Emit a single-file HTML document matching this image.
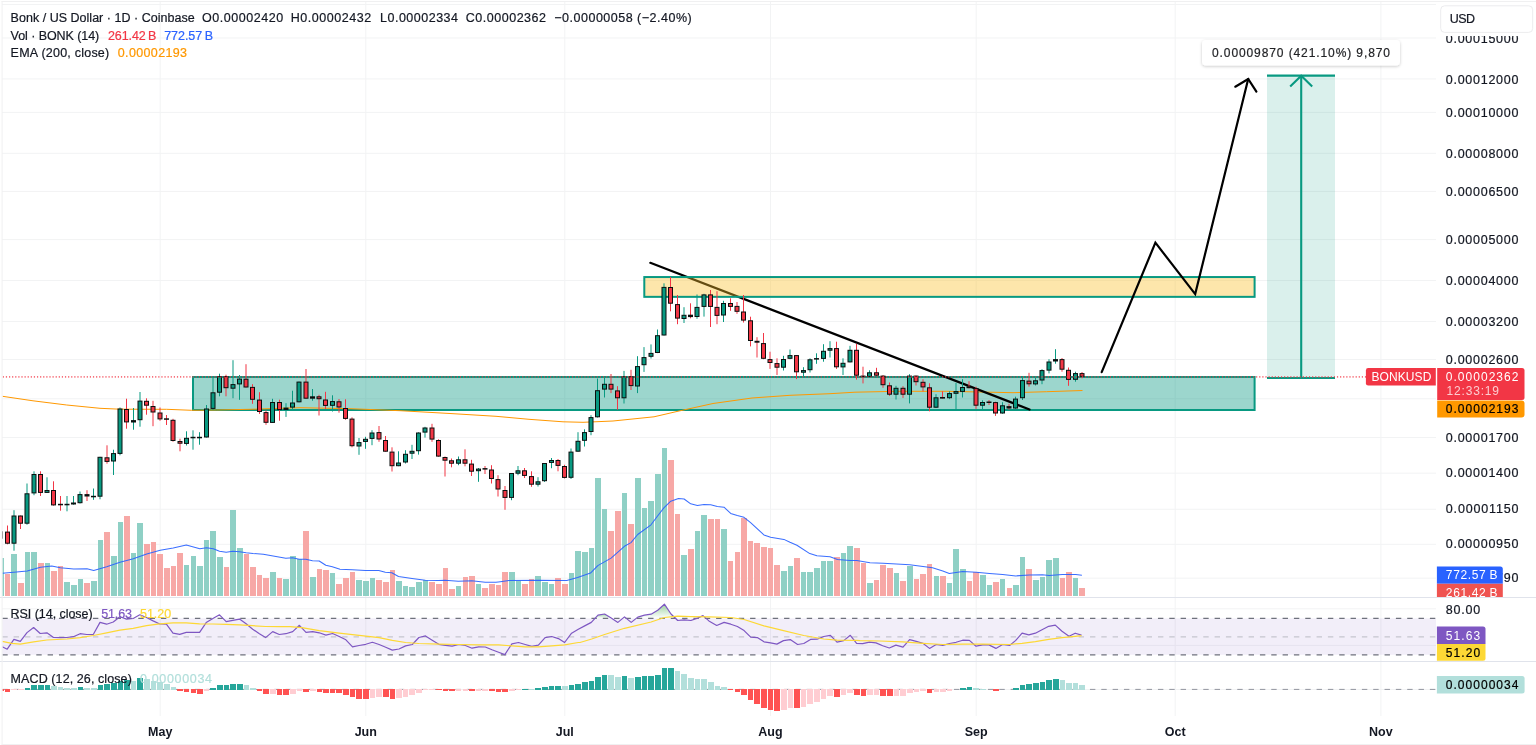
<!DOCTYPE html>
<html lang="en"><head><meta charset="utf-8"><title>Bonk / US Dollar - 1D - Coinbase</title>
<style>
html,body{margin:0;padding:0;background:#fff}
body{width:1536px;height:745px;overflow:hidden;font-family:"Liberation Sans",sans-serif}
svg{display:block}
svg text{font-family:"Liberation Sans",sans-serif;white-space:pre}
</style></head><body>
<svg width="1536" height="745" viewBox="0 0 1536 745">
<rect x="0" y="0" width="1536" height="745" fill="#ffffff"/>
<g stroke="#f2f3f4" stroke-width="1" shape-rendering="crispEdges">
<line x1="2" y1="4.52" x2="1436" y2="4.52" shape-rendering="auto"/>
<line x1="2" y1="37.98" x2="1436" y2="37.98" shape-rendering="auto"/>
<line x1="2" y1="78.93" x2="1436" y2="78.93" shape-rendering="auto"/>
<line x1="2" y1="112.38" x2="1436" y2="112.38" shape-rendering="auto"/>
<line x1="2" y1="153.33" x2="1436" y2="153.33" shape-rendering="auto"/>
<line x1="2" y1="191.43" x2="1436" y2="191.43" shape-rendering="auto"/>
<line x1="2" y1="239.58" x2="1436" y2="239.58" shape-rendering="auto"/>
<line x1="2" y1="280.52" x2="1436" y2="280.52" shape-rendering="auto"/>
<line x1="2" y1="321.47" x2="1436" y2="321.47" shape-rendering="auto"/>
<line x1="2" y1="359.57" x2="1436" y2="359.57" shape-rendering="auto"/>
<line x1="2" y1="398.76" x2="1436" y2="398.76" shape-rendering="auto"/>
<line x1="2" y1="437.54" x2="1436" y2="437.54" shape-rendering="auto"/>
<line x1="2" y1="473.16" x2="1436" y2="473.16" shape-rendering="auto"/>
<line x1="2" y1="509.26" x2="1436" y2="509.26" shape-rendering="auto"/>
<line x1="2" y1="544.32" x2="1436" y2="544.32" shape-rendering="auto"/>
<line x1="2" y1="578.16" x2="1436" y2="578.16" shape-rendering="auto"/>
<line x1="2" y1="608.8" x2="1436" y2="608.8" shape-rendering="auto"/>
<line x1="2" y1="645.4" x2="1436" y2="645.4" shape-rendering="auto"/>
<line x1="160.2" y1="2" x2="160.2" y2="716" shape-rendering="auto"/>
<line x1="365.8" y1="2" x2="365.8" y2="716" shape-rendering="auto"/>
<line x1="564.8" y1="2" x2="564.8" y2="716" shape-rendering="auto"/>
<line x1="770.5" y1="2" x2="770.5" y2="716" shape-rendering="auto"/>
<line x1="976.2" y1="2" x2="976.2" y2="716" shape-rendering="auto"/>
<line x1="1175.2" y1="2" x2="1175.2" y2="716" shape-rendering="auto"/>
<line x1="1380.9" y1="2" x2="1380.9" y2="716" shape-rendering="auto"/>
</g>
<clipPath id="cc"><rect x="2.2" y="2" width="1434" height="714"/></clipPath>
<g clip-path="url(#cc)">
<rect x="2" y="618.4" width="1434" height="36.4" fill="#7e57c2" fill-opacity="0.1"/>
<line x1="2" y1="689.5" x2="1436" y2="689.5" stroke="#f2f3f4" stroke-width="1" shape-rendering="crispEdges"/>
<g fill="none" stroke-width="1.25" stroke-dasharray="5.4 5.93">
<line x1="2.3" y1="618.4" x2="1436" y2="618.4" stroke="#6f727d"/>
<line x1="2.3" y1="636.8" x2="1436" y2="636.8" stroke="#c5c5ce"/>
<line x1="2.3" y1="654.8" x2="1436" y2="654.8" stroke="#6f727d"/>
<line x1="2.3" y1="689.4" x2="1436" y2="689.4" stroke="#868995" stroke-width="0.9"/>
</g>
<g shape-rendering="crispEdges">
<rect x="2" y="557.7" width="1.7" height="38.3" fill="#8fd0c5"/>
<rect x="4.7" y="573.5" width="5.6" height="22.5" fill="#f7a8a6"/>
<rect x="11.4" y="554.3" width="5.6" height="41.7" fill="#8fd0c5"/>
<rect x="18" y="583" width="5.6" height="13" fill="#f7a8a6"/>
<rect x="24.6" y="552" width="5.6" height="44" fill="#8fd0c5"/>
<rect x="31.3" y="552.3" width="5.6" height="43.7" fill="#8fd0c5"/>
<rect x="37.9" y="563" width="5.6" height="33" fill="#f7a8a6"/>
<rect x="44.5" y="562.7" width="5.6" height="33.3" fill="#8fd0c5"/>
<rect x="51.2" y="571.3" width="5.6" height="24.7" fill="#f7a8a6"/>
<rect x="57.8" y="566" width="5.6" height="30" fill="#f7a8a6"/>
<rect x="64.4" y="581.8" width="5.6" height="14.2" fill="#8fd0c5"/>
<rect x="71.1" y="584.8" width="5.6" height="11.2" fill="#8fd0c5"/>
<rect x="77.7" y="579" width="5.6" height="17" fill="#8fd0c5"/>
<rect x="84.3" y="583.2" width="5.6" height="12.8" fill="#f7a8a6"/>
<rect x="91" y="580.7" width="5.6" height="15.3" fill="#8fd0c5"/>
<rect x="97.6" y="539.5" width="5.6" height="56.5" fill="#8fd0c5"/>
<rect x="104.2" y="532.3" width="5.6" height="63.7" fill="#f7a8a6"/>
<rect x="110.9" y="555.5" width="5.6" height="40.5" fill="#8fd0c5"/>
<rect x="117.5" y="522" width="5.6" height="74" fill="#8fd0c5"/>
<rect x="124.1" y="516" width="5.6" height="80" fill="#f7a8a6"/>
<rect x="130.8" y="553" width="5.6" height="43" fill="#8fd0c5"/>
<rect x="137.4" y="523.2" width="5.6" height="72.8" fill="#8fd0c5"/>
<rect x="144" y="544" width="5.6" height="52" fill="#f7a8a6"/>
<rect x="150.7" y="541.5" width="5.6" height="54.5" fill="#f7a8a6"/>
<rect x="157.3" y="554" width="5.6" height="42" fill="#f7a8a6"/>
<rect x="163.9" y="568.2" width="5.6" height="27.8" fill="#f7a8a6"/>
<rect x="170.6" y="566.2" width="5.6" height="29.8" fill="#f7a8a6"/>
<rect x="177.2" y="553.2" width="5.6" height="42.8" fill="#f7a8a6"/>
<rect x="183.8" y="565.2" width="5.6" height="30.8" fill="#8fd0c5"/>
<rect x="190.5" y="555.5" width="5.6" height="40.5" fill="#8fd0c5"/>
<rect x="197.1" y="565.8" width="5.6" height="30.2" fill="#8fd0c5"/>
<rect x="203.7" y="539.5" width="5.6" height="56.5" fill="#8fd0c5"/>
<rect x="210.4" y="530.8" width="5.6" height="65.2" fill="#8fd0c5"/>
<rect x="217" y="557" width="5.6" height="39" fill="#8fd0c5"/>
<rect x="223.6" y="567.2" width="5.6" height="28.8" fill="#f7a8a6"/>
<rect x="230.3" y="510.2" width="5.6" height="85.8" fill="#8fd0c5"/>
<rect x="236.9" y="548" width="5.6" height="48" fill="#8fd0c5"/>
<rect x="243.5" y="553.8" width="5.6" height="42.2" fill="#f7a8a6"/>
<rect x="250.2" y="567.2" width="5.6" height="28.8" fill="#f7a8a6"/>
<rect x="256.8" y="575.2" width="5.6" height="20.8" fill="#f7a8a6"/>
<rect x="263.4" y="577.7" width="5.6" height="18.3" fill="#f7a8a6"/>
<rect x="270.1" y="571.5" width="5.6" height="24.5" fill="#8fd0c5"/>
<rect x="276.7" y="577.7" width="5.6" height="18.3" fill="#f7a8a6"/>
<rect x="283.3" y="579" width="5.6" height="17" fill="#8fd0c5"/>
<rect x="290" y="555.5" width="5.6" height="40.5" fill="#8fd0c5"/>
<rect x="296.6" y="559.3" width="5.6" height="36.7" fill="#8fd0c5"/>
<rect x="303.2" y="531.3" width="5.6" height="64.7" fill="#f7a8a6"/>
<rect x="309.9" y="576.7" width="5.6" height="19.3" fill="#8fd0c5"/>
<rect x="316.5" y="569.3" width="5.6" height="26.7" fill="#f7a8a6"/>
<rect x="323.2" y="570.2" width="5.6" height="25.8" fill="#f7a8a6"/>
<rect x="329.8" y="572.7" width="5.6" height="23.3" fill="#8fd0c5"/>
<rect x="336.4" y="584.3" width="5.6" height="11.7" fill="#f7a8a6"/>
<rect x="343.1" y="578" width="5.6" height="18" fill="#f7a8a6"/>
<rect x="349.7" y="572.2" width="5.6" height="23.8" fill="#f7a8a6"/>
<rect x="356.3" y="580" width="5.6" height="16" fill="#8fd0c5"/>
<rect x="363" y="581.3" width="5.6" height="14.7" fill="#8fd0c5"/>
<rect x="369.6" y="577.7" width="5.6" height="18.3" fill="#8fd0c5"/>
<rect x="376.2" y="580.2" width="5.6" height="15.8" fill="#f7a8a6"/>
<rect x="382.9" y="582" width="5.6" height="14" fill="#f7a8a6"/>
<rect x="389.5" y="570.2" width="5.6" height="25.8" fill="#f7a8a6"/>
<rect x="396.1" y="581.3" width="5.6" height="14.7" fill="#8fd0c5"/>
<rect x="402.8" y="586" width="5.6" height="10" fill="#8fd0c5"/>
<rect x="409.4" y="587.2" width="5.6" height="8.8" fill="#8fd0c5"/>
<rect x="416" y="582" width="5.6" height="14" fill="#8fd0c5"/>
<rect x="422.7" y="579.7" width="5.6" height="16.3" fill="#8fd0c5"/>
<rect x="429.3" y="582" width="5.6" height="14" fill="#f7a8a6"/>
<rect x="435.9" y="584.3" width="5.6" height="11.7" fill="#f7a8a6"/>
<rect x="442.6" y="568.3" width="5.6" height="27.7" fill="#f7a8a6"/>
<rect x="449.2" y="589.2" width="5.6" height="6.8" fill="#f7a8a6"/>
<rect x="455.8" y="586.3" width="5.6" height="9.7" fill="#8fd0c5"/>
<rect x="462.5" y="577" width="5.6" height="19" fill="#f7a8a6"/>
<rect x="469.1" y="575.7" width="5.6" height="20.3" fill="#f7a8a6"/>
<rect x="475.7" y="584" width="5.6" height="12" fill="#8fd0c5"/>
<rect x="482.4" y="587.5" width="5.6" height="8.5" fill="#f7a8a6"/>
<rect x="489" y="583.7" width="5.6" height="12.3" fill="#f7a8a6"/>
<rect x="495.6" y="585.3" width="5.6" height="10.7" fill="#f7a8a6"/>
<rect x="502.3" y="572" width="5.6" height="24" fill="#f7a8a6"/>
<rect x="508.9" y="572" width="5.6" height="24" fill="#8fd0c5"/>
<rect x="515.5" y="580.6" width="5.6" height="15.4" fill="#8fd0c5"/>
<rect x="522.2" y="583.8" width="5.6" height="12.2" fill="#f7a8a6"/>
<rect x="528.8" y="579.1" width="5.6" height="16.9" fill="#f7a8a6"/>
<rect x="535.4" y="575.9" width="5.6" height="20.1" fill="#8fd0c5"/>
<rect x="542.1" y="581.7" width="5.6" height="14.3" fill="#8fd0c5"/>
<rect x="548.7" y="584.3" width="5.6" height="11.7" fill="#8fd0c5"/>
<rect x="555.3" y="578" width="5.6" height="18" fill="#f7a8a6"/>
<rect x="562" y="584.3" width="5.6" height="11.7" fill="#f7a8a6"/>
<rect x="568.6" y="573.1" width="5.6" height="22.9" fill="#8fd0c5"/>
<rect x="575.2" y="551.4" width="5.6" height="44.6" fill="#8fd0c5"/>
<rect x="581.9" y="552.1" width="5.6" height="43.9" fill="#8fd0c5"/>
<rect x="588.5" y="548" width="5.6" height="48" fill="#8fd0c5"/>
<rect x="595.1" y="478.2" width="5.6" height="117.8" fill="#8fd0c5"/>
<rect x="601.8" y="509.1" width="5.6" height="86.9" fill="#8fd0c5"/>
<rect x="608.4" y="531.2" width="5.6" height="64.8" fill="#f7a8a6"/>
<rect x="615" y="511.1" width="5.6" height="84.9" fill="#f7a8a6"/>
<rect x="621.7" y="493.2" width="5.6" height="102.8" fill="#8fd0c5"/>
<rect x="628.3" y="523.9" width="5.6" height="72.1" fill="#f7a8a6"/>
<rect x="634.9" y="478.2" width="5.6" height="117.8" fill="#8fd0c5"/>
<rect x="641.6" y="508.3" width="5.6" height="87.7" fill="#8fd0c5"/>
<rect x="648.2" y="501.2" width="5.6" height="94.8" fill="#8fd0c5"/>
<rect x="654.9" y="473.7" width="5.6" height="122.3" fill="#8fd0c5"/>
<rect x="661.5" y="448.2" width="5.6" height="147.8" fill="#8fd0c5"/>
<rect x="668.1" y="459.8" width="5.6" height="136.2" fill="#f7a8a6"/>
<rect x="674.8" y="514.3" width="5.6" height="81.7" fill="#f7a8a6"/>
<rect x="681.4" y="555.1" width="5.6" height="40.9" fill="#8fd0c5"/>
<rect x="688" y="549.1" width="5.6" height="46.9" fill="#f7a8a6"/>
<rect x="694.7" y="531.2" width="5.6" height="64.8" fill="#8fd0c5"/>
<rect x="701.3" y="514.9" width="5.6" height="81.1" fill="#8fd0c5"/>
<rect x="707.9" y="518.6" width="5.6" height="77.4" fill="#f7a8a6"/>
<rect x="714.6" y="519.4" width="5.6" height="76.6" fill="#f7a8a6"/>
<rect x="721.2" y="528.7" width="5.6" height="67.3" fill="#8fd0c5"/>
<rect x="727.8" y="561.3" width="5.6" height="34.7" fill="#f7a8a6"/>
<rect x="734.5" y="552.3" width="5.6" height="43.7" fill="#f7a8a6"/>
<rect x="741.1" y="517.7" width="5.6" height="78.3" fill="#f7a8a6"/>
<rect x="747.7" y="540.5" width="5.6" height="55.5" fill="#f7a8a6"/>
<rect x="754.4" y="543.3" width="5.6" height="52.7" fill="#f7a8a6"/>
<rect x="761" y="547.1" width="5.6" height="48.9" fill="#f7a8a6"/>
<rect x="767.6" y="548" width="5.6" height="48" fill="#f7a8a6"/>
<rect x="774.3" y="564.7" width="5.6" height="31.3" fill="#f7a8a6"/>
<rect x="780.9" y="571" width="5.6" height="25" fill="#8fd0c5"/>
<rect x="787.5" y="566.1" width="5.6" height="29.9" fill="#8fd0c5"/>
<rect x="794.2" y="558.1" width="5.6" height="37.9" fill="#f7a8a6"/>
<rect x="800.8" y="571.6" width="5.6" height="24.4" fill="#8fd0c5"/>
<rect x="807.4" y="571.6" width="5.6" height="24.4" fill="#8fd0c5"/>
<rect x="814.1" y="568" width="5.6" height="28" fill="#8fd0c5"/>
<rect x="820.7" y="561.1" width="5.6" height="34.9" fill="#8fd0c5"/>
<rect x="827.3" y="561.1" width="5.6" height="34.9" fill="#8fd0c5"/>
<rect x="834" y="556.6" width="5.6" height="39.4" fill="#f7a8a6"/>
<rect x="840.6" y="553.2" width="5.6" height="42.8" fill="#8fd0c5"/>
<rect x="847.2" y="546.3" width="5.6" height="49.7" fill="#8fd0c5"/>
<rect x="853.9" y="548.2" width="5.6" height="47.8" fill="#f7a8a6"/>
<rect x="860.5" y="563.3" width="5.6" height="32.7" fill="#f7a8a6"/>
<rect x="867.1" y="583.1" width="5.6" height="12.9" fill="#8fd0c5"/>
<rect x="873.8" y="579.9" width="5.6" height="16.1" fill="#f7a8a6"/>
<rect x="880.4" y="565.1" width="5.6" height="30.9" fill="#f7a8a6"/>
<rect x="887" y="568" width="5.6" height="28" fill="#f7a8a6"/>
<rect x="893.7" y="573.2" width="5.6" height="22.8" fill="#8fd0c5"/>
<rect x="900.3" y="581.3" width="5.6" height="14.7" fill="#f7a8a6"/>
<rect x="906.9" y="566.1" width="5.6" height="29.9" fill="#8fd0c5"/>
<rect x="913.6" y="578.9" width="5.6" height="17.1" fill="#f7a8a6"/>
<rect x="920.2" y="573.6" width="5.6" height="22.4" fill="#f7a8a6"/>
<rect x="926.8" y="564.1" width="5.6" height="31.9" fill="#f7a8a6"/>
<rect x="933.5" y="576.3" width="5.6" height="19.7" fill="#8fd0c5"/>
<rect x="940.1" y="575.8" width="5.6" height="20.2" fill="#f7a8a6"/>
<rect x="946.7" y="583.1" width="5.6" height="12.9" fill="#8fd0c5"/>
<rect x="953.4" y="549.4" width="5.6" height="46.6" fill="#8fd0c5"/>
<rect x="960" y="569.2" width="5.6" height="26.8" fill="#8fd0c5"/>
<rect x="966.6" y="581.3" width="5.6" height="14.7" fill="#f7a8a6"/>
<rect x="973.3" y="571.6" width="5.6" height="24.4" fill="#f7a8a6"/>
<rect x="979.9" y="575.2" width="5.6" height="20.8" fill="#8fd0c5"/>
<rect x="986.6" y="584.5" width="5.6" height="11.5" fill="#8fd0c5"/>
<rect x="993.2" y="582.3" width="5.6" height="13.7" fill="#f7a8a6"/>
<rect x="999.8" y="579.1" width="5.6" height="16.9" fill="#8fd0c5"/>
<rect x="1006.5" y="588.2" width="5.6" height="7.8" fill="#f7a8a6"/>
<rect x="1013.1" y="585.1" width="5.6" height="10.9" fill="#8fd0c5"/>
<rect x="1019.7" y="556.6" width="5.6" height="39.4" fill="#8fd0c5"/>
<rect x="1026.4" y="569.4" width="5.6" height="26.6" fill="#f7a8a6"/>
<rect x="1033" y="579.9" width="5.6" height="16.1" fill="#8fd0c5"/>
<rect x="1039.6" y="577.1" width="5.6" height="18.9" fill="#8fd0c5"/>
<rect x="1046.3" y="559.9" width="5.6" height="36.1" fill="#8fd0c5"/>
<rect x="1052.9" y="558.1" width="5.6" height="37.9" fill="#8fd0c5"/>
<rect x="1059.5" y="578.1" width="5.6" height="17.9" fill="#f7a8a6"/>
<rect x="1066.2" y="572.2" width="5.6" height="23.8" fill="#f7a8a6"/>
<rect x="1072.8" y="578.1" width="5.6" height="17.9" fill="#8fd0c5"/>
<rect x="1079.4" y="588.4" width="5.6" height="7.6" fill="#f7a8a6"/>
</g>
<polyline fill="none" stroke="#2962ff" stroke-width="1.05" stroke-opacity="0.92" stroke-linejoin="round" points="2.3,573.3 13.8,572.2 27.2,571 40.5,567.2 51.7,566 60.3,567.7 73.7,569 87,568.7 93.7,570.5 106.7,566.8 120,562.3 133.3,558.8 146.7,554 160.2,550.2 173.2,548 186.3,545 199.8,548.7 206.5,547.7 213.3,548.7 219.5,551.3 226.2,552.3 232.8,551.3 239.5,551.7 246.2,552.7 253,553.5 263.3,554.3 285.8,558.3 292.5,557.7 299.2,559.3 305.8,559.3 312.5,560.7 319.2,561 325.8,565.3 332.3,566.8 340,569.3 352.2,569.7 365.5,570.5 378.8,570.5 385.3,572.2 391.8,572.7 398.5,576.5 412,578.5 425.3,580.2 438.3,580.5 445,580.2 458.3,581.2 471.7,580.7 485.2,582.2 496,582.2 500.3,581.7 508.9,580.6 538.9,580.2 566.8,580.6 577.6,577.4 590.5,573.1 597.8,565.6 611.1,558.1 624.4,546.3 631,542.6 637.7,534.5 651,524.8 657.4,516.2 664.1,507.6 670.8,501.2 678.5,498.4 684.1,499 690.7,503.8 697.4,505.5 704,504.4 710.7,504.8 717.3,506.6 724,507.2 730.7,513.4 737.3,515.6 744,517.3 750.6,522.7 763.9,534.9 770.6,537.3 783.9,539.4 790,542.3 796.9,545.3 809.8,553.6 816.9,555.8 830,556.8 837.5,559.5 850,560.5 856.7,560.5 870,562.7 883,563.3 896.5,564.1 909.7,564.7 923,566.6 932.5,567.8 942.8,571 949.3,573.4 962.8,571.6 976.2,572.2 989.5,573.4 1002.6,574.4 1015.8,575.9 1029.3,575 1042.5,574.8 1049.1,575.6 1062.3,574.4 1075.8,574.6 1081.9,575.2"/>
<rect x="193" y="377" width="1061.6" height="33" fill="#089981" fill-opacity="0.4" stroke="#089981" stroke-width="2"/>
<rect x="1267" y="75" width="68" height="303" fill="#089981" fill-opacity="0.15"/>
<g stroke="#089981" stroke-width="2.1" fill="none"><line x1="1267" y1="75.6" x2="1335" y2="75.6"/><line x1="1267" y1="378" x2="1335" y2="378"/><line x1="1301.2" y1="378" x2="1301.2" y2="76"/><polyline points="1290.2,86.6 1301.2,75.8 1312.2,86.6"/></g>
<polyline fill="none" stroke="#ff9800" stroke-width="1" stroke-linejoin="round" points="2.5,396.3 33,400.8 66.7,405 100,408.3 120,409.2 166.7,409.3 191.7,410.3 216.7,410 250,409.3 300,407.7 350,408.7 400,410.7 450,413.5 496,416.3 529,419.3 563,421.8 583,422.3 613,421 654,416.8 679,411 713,403.5 752,398 790,395.3 830,393.7 855,392.2 896.7,391.3 946.7,391.3 980,392 1013,392.7 1046.7,391.7 1082.5,390.5"/>
<line x1="650.3" y1="262.8" x2="1029.5" y2="409.5" stroke="#000" stroke-width="2.2" stroke-linecap="round"/>
<rect x="644.3" y="277.05" width="610.3" height="19.8" fill="#fbc02d" fill-opacity="0.4" stroke="#089981" stroke-width="2"/>
<g>
<rect x="0" y="531.3" width="1" height="7.4" fill="#f23645"/>
<rect x="-1.5" y="531.8" width="4" height="6.4" fill="#f23645" stroke="#0a0f0e" stroke-width="1"/>
<rect x="7" y="525.5" width="1" height="18.8" fill="#f23645"/>
<rect x="5.5" y="532.1" width="4" height="11.1" fill="#f23645" stroke="#0a0f0e" stroke-width="1"/>
<rect x="13.5" y="510.2" width="1" height="40.5" fill="#089981"/>
<rect x="12" y="516" width="4" height="27.2" fill="#089981" stroke="#0a0f0e" stroke-width="1"/>
<rect x="20" y="515.5" width="1" height="13.5" fill="#f23645"/>
<rect x="18.5" y="516" width="4" height="7.2" fill="#f23645" stroke="#0a0f0e" stroke-width="1"/>
<rect x="26.5" y="483.5" width="1" height="41.2" fill="#089981"/>
<rect x="25" y="493.8" width="4" height="29.4" fill="#089981" stroke="#0a0f0e" stroke-width="1"/>
<rect x="33.5" y="471.3" width="1" height="23.9" fill="#089981"/>
<rect x="32" y="474.5" width="4" height="18.4" fill="#089981" stroke="#0a0f0e" stroke-width="1"/>
<rect x="40" y="471.3" width="1" height="24.7" fill="#f23645"/>
<rect x="38.5" y="474.5" width="4" height="17.9" fill="#f23645" stroke="#0a0f0e" stroke-width="1"/>
<rect x="46.5" y="477.3" width="1" height="15.6" fill="#089981"/>
<rect x="45" y="490.5" width="4" height="1.9" fill="#089981" stroke="#0a0f0e" stroke-width="1"/>
<rect x="53" y="481.3" width="1" height="24.4" fill="#f23645"/>
<rect x="51.5" y="490.5" width="4" height="14.4" fill="#f23645" stroke="#0a0f0e" stroke-width="1"/>
<rect x="60" y="496" width="1" height="14.7" fill="#f23645"/>
<rect x="58" y="503.8" width="5" height="1.5" fill="#0a0f0e"/>
<rect x="66.5" y="496" width="1" height="15.3" fill="#089981"/>
<rect x="64.5" y="503.8" width="5" height="1.5" fill="#0a0f0e"/>
<rect x="73" y="496" width="1" height="8.7" fill="#089981"/>
<rect x="71" y="502.5" width="5" height="2" fill="#0a0f0e"/>
<rect x="79.5" y="491.5" width="1" height="12" fill="#089981"/>
<rect x="78" y="494.6" width="4" height="8.1" fill="#089981" stroke="#0a0f0e" stroke-width="1"/>
<rect x="86.5" y="490.2" width="1" height="10.8" fill="#f23645"/>
<rect x="84.5" y="494.1" width="5" height="2.4" fill="#0a0f0e"/>
<rect x="93" y="488.5" width="1" height="11.3" fill="#089981"/>
<rect x="91" y="495.8" width="5" height="1.5" fill="#0a0f0e"/>
<rect x="99.5" y="456.8" width="1" height="42.5" fill="#089981"/>
<rect x="98" y="457.3" width="4" height="38.9" fill="#089981" stroke="#0a0f0e" stroke-width="1"/>
<rect x="106.5" y="445.3" width="1" height="18.4" fill="#f23645"/>
<rect x="105" y="457.8" width="4" height="3.6" fill="#f23645" stroke="#0a0f0e" stroke-width="1"/>
<rect x="113" y="449.7" width="1" height="25.3" fill="#089981"/>
<rect x="111.5" y="453.6" width="4" height="7.4" fill="#089981" stroke="#0a0f0e" stroke-width="1"/>
<rect x="119.5" y="407.5" width="1" height="47.8" fill="#089981"/>
<rect x="118" y="409" width="4" height="44.4" fill="#089981" stroke="#0a0f0e" stroke-width="1"/>
<rect x="126" y="398.7" width="1" height="30" fill="#f23645"/>
<rect x="124.5" y="409.5" width="4" height="12.4" fill="#f23645" stroke="#0a0f0e" stroke-width="1"/>
<rect x="133" y="408" width="1" height="21.7" fill="#089981"/>
<rect x="131" y="420.1" width="5" height="2.4" fill="#0a0f0e"/>
<rect x="139.5" y="392" width="1" height="34.7" fill="#089981"/>
<rect x="138" y="401.1" width="4" height="18.6" fill="#089981" stroke="#0a0f0e" stroke-width="1"/>
<rect x="146" y="398.3" width="1" height="16.4" fill="#f23645"/>
<rect x="144.5" y="401.3" width="4" height="3.9" fill="#f23645" stroke="#0a0f0e" stroke-width="1"/>
<rect x="152.5" y="400.8" width="1" height="25.4" fill="#f23645"/>
<rect x="151" y="406.5" width="4" height="5.5" fill="#f23645" stroke="#0a0f0e" stroke-width="1"/>
<rect x="159.5" y="407.5" width="1" height="13.3" fill="#f23645"/>
<rect x="158" y="413" width="4" height="5.9" fill="#f23645" stroke="#0a0f0e" stroke-width="1"/>
<rect x="166" y="415" width="1" height="10" fill="#f23645"/>
<rect x="164" y="418.3" width="5" height="1.5" fill="#0a0f0e"/>
<rect x="172.5" y="418.8" width="1" height="22.9" fill="#f23645"/>
<rect x="171" y="420.3" width="4" height="20.2" fill="#f23645" stroke="#0a0f0e" stroke-width="1"/>
<rect x="179.5" y="438.7" width="1" height="12.6" fill="#f23645"/>
<rect x="178" y="441.5" width="4" height="1.7" fill="#f23645" stroke="#0a0f0e" stroke-width="1"/>
<rect x="186" y="431.3" width="1" height="14.2" fill="#089981"/>
<rect x="184.5" y="438.3" width="4" height="5.1" fill="#089981" stroke="#0a0f0e" stroke-width="1"/>
<rect x="192.5" y="430.3" width="1" height="19.4" fill="#089981"/>
<rect x="190.5" y="436.8" width="5" height="1.5" fill="#0a0f0e"/>
<rect x="199" y="432.2" width="1" height="12.5" fill="#089981"/>
<rect x="197" y="436.8" width="5" height="1.5" fill="#0a0f0e"/>
<rect x="206" y="405" width="1" height="32.5" fill="#089981"/>
<rect x="204.5" y="409" width="4" height="28" fill="#089981" stroke="#0a0f0e" stroke-width="1"/>
<rect x="212.5" y="377.5" width="1" height="32.5" fill="#089981"/>
<rect x="211" y="392.8" width="4" height="15.6" fill="#089981" stroke="#0a0f0e" stroke-width="1"/>
<rect x="219" y="373.7" width="1" height="22.6" fill="#089981"/>
<rect x="217.5" y="376.6" width="4" height="15.6" fill="#089981" stroke="#0a0f0e" stroke-width="1"/>
<rect x="225.5" y="374.7" width="1" height="21.6" fill="#f23645"/>
<rect x="224" y="376.6" width="4" height="11.1" fill="#f23645" stroke="#0a0f0e" stroke-width="1"/>
<rect x="232.5" y="360.2" width="1" height="38" fill="#089981"/>
<rect x="231" y="384.6" width="4" height="3.6" fill="#089981" stroke="#0a0f0e" stroke-width="1"/>
<rect x="239" y="375" width="1" height="24.8" fill="#089981"/>
<rect x="237.5" y="379.1" width="4" height="4.8" fill="#089981" stroke="#0a0f0e" stroke-width="1"/>
<rect x="245.5" y="364.2" width="1" height="23.3" fill="#f23645"/>
<rect x="244" y="379.2" width="4" height="7.8" fill="#f23645" stroke="#0a0f0e" stroke-width="1"/>
<rect x="252" y="384.2" width="1" height="19.6" fill="#f23645"/>
<rect x="250.5" y="387.4" width="4" height="11.9" fill="#f23645" stroke="#0a0f0e" stroke-width="1"/>
<rect x="259" y="392.2" width="1" height="21.7" fill="#f23645"/>
<rect x="257.5" y="400.1" width="4" height="11.4" fill="#f23645" stroke="#0a0f0e" stroke-width="1"/>
<rect x="265.5" y="410.5" width="1" height="14.3" fill="#f23645"/>
<rect x="264" y="412.6" width="4" height="9.7" fill="#f23645" stroke="#0a0f0e" stroke-width="1"/>
<rect x="272" y="398.8" width="1" height="24" fill="#089981"/>
<rect x="270.5" y="402.5" width="4" height="19.9" fill="#089981" stroke="#0a0f0e" stroke-width="1"/>
<rect x="279" y="399.7" width="1" height="21" fill="#f23645"/>
<rect x="277.5" y="402.5" width="4" height="7.1" fill="#f23645" stroke="#0a0f0e" stroke-width="1"/>
<rect x="285.5" y="403.2" width="1" height="13.7" fill="#089981"/>
<rect x="283.5" y="407.6" width="5" height="2.4" fill="#0a0f0e"/>
<rect x="292" y="390.7" width="1" height="18.3" fill="#089981"/>
<rect x="290.5" y="403" width="4" height="4.1" fill="#089981" stroke="#0a0f0e" stroke-width="1"/>
<rect x="298.5" y="381.6" width="1" height="20.7" fill="#089981"/>
<rect x="297" y="382.1" width="4" height="19.7" fill="#089981" stroke="#0a0f0e" stroke-width="1"/>
<rect x="305.5" y="369" width="1" height="29.7" fill="#f23645"/>
<rect x="304" y="382.1" width="4" height="16.1" fill="#f23645" stroke="#0a0f0e" stroke-width="1"/>
<rect x="312" y="389" width="1" height="11.7" fill="#089981"/>
<rect x="310" y="396.3" width="5" height="2.4" fill="#0a0f0e"/>
<rect x="318.5" y="394.8" width="1" height="20.7" fill="#f23645"/>
<rect x="317" y="396.8" width="4" height="1.9" fill="#f23645" stroke="#0a0f0e" stroke-width="1"/>
<rect x="325" y="391.8" width="1" height="17.2" fill="#f23645"/>
<rect x="323.5" y="400" width="4" height="5.4" fill="#f23645" stroke="#0a0f0e" stroke-width="1"/>
<rect x="332" y="395.3" width="1" height="16.2" fill="#089981"/>
<rect x="330.5" y="401.6" width="4" height="3.7" fill="#089981" stroke="#0a0f0e" stroke-width="1"/>
<rect x="338.5" y="399" width="1" height="13.7" fill="#f23645"/>
<rect x="337" y="401.8" width="4" height="5.2" fill="#f23645" stroke="#0a0f0e" stroke-width="1"/>
<rect x="345" y="399.3" width="1" height="20.5" fill="#f23645"/>
<rect x="343.5" y="408.5" width="4" height="9.9" fill="#f23645" stroke="#0a0f0e" stroke-width="1"/>
<rect x="351.5" y="417.3" width="1" height="30" fill="#f23645"/>
<rect x="350" y="419.1" width="4" height="26.6" fill="#f23645" stroke="#0a0f0e" stroke-width="1"/>
<rect x="358.5" y="438" width="1" height="16.8" fill="#089981"/>
<rect x="357" y="442.6" width="4" height="3.4" fill="#089981" stroke="#0a0f0e" stroke-width="1"/>
<rect x="365" y="436.8" width="1" height="12" fill="#089981"/>
<rect x="363.5" y="439.3" width="4" height="2.1" fill="#089981" stroke="#0a0f0e" stroke-width="1"/>
<rect x="371.5" y="430.2" width="1" height="15" fill="#089981"/>
<rect x="370" y="433" width="4" height="5.4" fill="#089981" stroke="#0a0f0e" stroke-width="1"/>
<rect x="378.5" y="426" width="1" height="15.8" fill="#f23645"/>
<rect x="377" y="432.6" width="4" height="6.4" fill="#f23645" stroke="#0a0f0e" stroke-width="1"/>
<rect x="385" y="436" width="1" height="15.7" fill="#f23645"/>
<rect x="383.5" y="440.5" width="4" height="10.7" fill="#f23645" stroke="#0a0f0e" stroke-width="1"/>
<rect x="391.5" y="447.3" width="1" height="24.2" fill="#f23645"/>
<rect x="390" y="452.1" width="4" height="13.6" fill="#f23645" stroke="#0a0f0e" stroke-width="1"/>
<rect x="398" y="451.3" width="1" height="14.9" fill="#089981"/>
<rect x="396.5" y="463" width="4" height="2.7" fill="#089981" stroke="#0a0f0e" stroke-width="1"/>
<rect x="405" y="450.2" width="1" height="13.3" fill="#089981"/>
<rect x="403.5" y="454.3" width="4" height="7.7" fill="#089981" stroke="#0a0f0e" stroke-width="1"/>
<rect x="411.5" y="444.8" width="1" height="14.2" fill="#089981"/>
<rect x="410" y="451.3" width="4" height="1.9" fill="#089981" stroke="#0a0f0e" stroke-width="1"/>
<rect x="418" y="432.3" width="1" height="22.3" fill="#089981"/>
<rect x="416.5" y="433" width="4" height="17.7" fill="#089981" stroke="#0a0f0e" stroke-width="1"/>
<rect x="424.5" y="426.8" width="1" height="10.8" fill="#089981"/>
<rect x="423" y="428" width="4" height="4.1" fill="#089981" stroke="#0a0f0e" stroke-width="1"/>
<rect x="431.5" y="423.8" width="1" height="18" fill="#f23645"/>
<rect x="430" y="428" width="4" height="11.1" fill="#f23645" stroke="#0a0f0e" stroke-width="1"/>
<rect x="438" y="439.3" width="1" height="17.5" fill="#f23645"/>
<rect x="436.5" y="440.5" width="4" height="15.6" fill="#f23645" stroke="#0a0f0e" stroke-width="1"/>
<rect x="444.5" y="456.5" width="1" height="20" fill="#f23645"/>
<rect x="443" y="457.5" width="4" height="2.7" fill="#f23645" stroke="#0a0f0e" stroke-width="1"/>
<rect x="451" y="458.5" width="1" height="8.8" fill="#f23645"/>
<rect x="449.5" y="460.8" width="4" height="2.4" fill="#f23645" stroke="#0a0f0e" stroke-width="1"/>
<rect x="458" y="456.5" width="1" height="8.7" fill="#089981"/>
<rect x="456.5" y="459.8" width="4" height="3.4" fill="#089981" stroke="#0a0f0e" stroke-width="1"/>
<rect x="464.5" y="449.3" width="1" height="17" fill="#f23645"/>
<rect x="463" y="459.8" width="4" height="3.4" fill="#f23645" stroke="#0a0f0e" stroke-width="1"/>
<rect x="471" y="459.8" width="1" height="16.2" fill="#f23645"/>
<rect x="469.5" y="464.1" width="4" height="7.1" fill="#f23645" stroke="#0a0f0e" stroke-width="1"/>
<rect x="478" y="468" width="1" height="13.8" fill="#089981"/>
<rect x="476.5" y="469.1" width="4" height="1.6" fill="#089981" stroke="#0a0f0e" stroke-width="1"/>
<rect x="484.5" y="466" width="1" height="8" fill="#f23645"/>
<rect x="482.5" y="468.1" width="5" height="1.5" fill="#0a0f0e"/>
<rect x="491" y="465.2" width="1" height="18.3" fill="#f23645"/>
<rect x="489.5" y="470" width="4" height="8.5" fill="#f23645" stroke="#0a0f0e" stroke-width="1"/>
<rect x="497.5" y="475.2" width="1" height="21.3" fill="#f23645"/>
<rect x="496" y="479.6" width="4" height="9.4" fill="#f23645" stroke="#0a0f0e" stroke-width="1"/>
<rect x="504.5" y="486" width="1" height="23.8" fill="#f23645"/>
<rect x="503" y="490.5" width="4" height="6.9" fill="#f23645" stroke="#0a0f0e" stroke-width="1"/>
<rect x="511" y="473" width="1" height="27.2" fill="#089981"/>
<rect x="509.5" y="473.5" width="4" height="23.9" fill="#089981" stroke="#0a0f0e" stroke-width="1"/>
<rect x="517.5" y="466" width="1" height="9.2" fill="#089981"/>
<rect x="516" y="470.8" width="4" height="2.4" fill="#089981" stroke="#0a0f0e" stroke-width="1"/>
<rect x="524" y="468" width="1" height="10" fill="#f23645"/>
<rect x="522.5" y="470.8" width="4" height="4.6" fill="#f23645" stroke="#0a0f0e" stroke-width="1"/>
<rect x="531" y="471.3" width="1" height="15.5" fill="#f23645"/>
<rect x="529.5" y="476.6" width="4" height="7.6" fill="#f23645" stroke="#0a0f0e" stroke-width="1"/>
<rect x="537.5" y="477.2" width="1" height="9.3" fill="#089981"/>
<rect x="536" y="481.8" width="4" height="2.4" fill="#089981" stroke="#0a0f0e" stroke-width="1"/>
<rect x="544" y="463" width="1" height="18.9" fill="#089981"/>
<rect x="542.5" y="463.5" width="4" height="17.2" fill="#089981" stroke="#0a0f0e" stroke-width="1"/>
<rect x="551" y="458" width="1" height="10.2" fill="#089981"/>
<rect x="549.5" y="460.5" width="4" height="1.9" fill="#089981" stroke="#0a0f0e" stroke-width="1"/>
<rect x="557.5" y="459" width="1" height="12.3" fill="#f23645"/>
<rect x="556" y="460.5" width="4" height="4.9" fill="#f23645" stroke="#0a0f0e" stroke-width="1"/>
<rect x="564" y="464.8" width="1" height="13.7" fill="#f23645"/>
<rect x="562.5" y="466.5" width="4" height="10.9" fill="#f23645" stroke="#0a0f0e" stroke-width="1"/>
<rect x="570.5" y="448.5" width="1" height="30.5" fill="#089981"/>
<rect x="569" y="452.1" width="4" height="25.2" fill="#089981" stroke="#0a0f0e" stroke-width="1"/>
<rect x="577.5" y="432.2" width="1" height="19.5" fill="#089981"/>
<rect x="576" y="441.3" width="4" height="9.9" fill="#089981" stroke="#0a0f0e" stroke-width="1"/>
<rect x="584" y="429.3" width="1" height="17.2" fill="#089981"/>
<rect x="582.5" y="432.6" width="4" height="7.7" fill="#089981" stroke="#0a0f0e" stroke-width="1"/>
<rect x="590.5" y="415.2" width="1" height="20" fill="#089981"/>
<rect x="589" y="417.6" width="4" height="13.9" fill="#089981" stroke="#0a0f0e" stroke-width="1"/>
<rect x="597" y="378.5" width="1" height="39" fill="#089981"/>
<rect x="595.5" y="390.7" width="4" height="26.1" fill="#089981" stroke="#0a0f0e" stroke-width="1"/>
<rect x="604" y="377.5" width="1" height="20" fill="#089981"/>
<rect x="602.5" y="384.3" width="4" height="4.8" fill="#089981" stroke="#0a0f0e" stroke-width="1"/>
<rect x="610.5" y="374" width="1" height="19.1" fill="#f23645"/>
<rect x="609" y="384.3" width="4" height="4.8" fill="#f23645" stroke="#0a0f0e" stroke-width="1"/>
<rect x="617" y="386.2" width="1" height="23.5" fill="#f23645"/>
<rect x="615.5" y="390.9" width="4" height="6.9" fill="#f23645" stroke="#0a0f0e" stroke-width="1"/>
<rect x="623.5" y="370.9" width="1" height="32.6" fill="#089981"/>
<rect x="622" y="376.8" width="4" height="21" fill="#089981" stroke="#0a0f0e" stroke-width="1"/>
<rect x="630.5" y="369.8" width="1" height="20.2" fill="#f23645"/>
<rect x="629" y="376.8" width="4" height="8.8" fill="#f23645" stroke="#0a0f0e" stroke-width="1"/>
<rect x="637" y="356.2" width="1" height="36.9" fill="#089981"/>
<rect x="635.5" y="366.6" width="4" height="19.4" fill="#089981" stroke="#0a0f0e" stroke-width="1"/>
<rect x="643.5" y="347.1" width="1" height="24.8" fill="#089981"/>
<rect x="642" y="357.6" width="4" height="7.1" fill="#089981" stroke="#0a0f0e" stroke-width="1"/>
<rect x="650.5" y="344.4" width="1" height="14.1" fill="#089981"/>
<rect x="649" y="353.4" width="4" height="2.9" fill="#089981" stroke="#0a0f0e" stroke-width="1"/>
<rect x="657" y="329.5" width="1" height="23.6" fill="#089981"/>
<rect x="655.5" y="335.7" width="4" height="16.8" fill="#089981" stroke="#0a0f0e" stroke-width="1"/>
<rect x="663.5" y="283.3" width="1" height="52.2" fill="#089981"/>
<rect x="662" y="287.4" width="4" height="47.6" fill="#089981" stroke="#0a0f0e" stroke-width="1"/>
<rect x="670" y="277" width="1" height="34.3" fill="#f23645"/>
<rect x="668.5" y="287.5" width="4" height="15.7" fill="#f23645" stroke="#0a0f0e" stroke-width="1"/>
<rect x="677" y="295" width="1" height="29.2" fill="#f23645"/>
<rect x="675.5" y="304.6" width="4" height="13.5" fill="#f23645" stroke="#0a0f0e" stroke-width="1"/>
<rect x="683.5" y="307.2" width="1" height="15.8" fill="#089981"/>
<rect x="682" y="315.3" width="4" height="3.2" fill="#089981" stroke="#0a0f0e" stroke-width="1"/>
<rect x="690" y="303.3" width="1" height="15" fill="#f23645"/>
<rect x="688" y="314.7" width="5" height="2.4" fill="#0a0f0e"/>
<rect x="696.5" y="294.5" width="1" height="24.3" fill="#089981"/>
<rect x="695" y="307.4" width="4" height="9.1" fill="#089981" stroke="#0a0f0e" stroke-width="1"/>
<rect x="703.5" y="293.8" width="1" height="22.8" fill="#089981"/>
<rect x="702" y="294.9" width="4" height="11.5" fill="#089981" stroke="#0a0f0e" stroke-width="1"/>
<rect x="710" y="290" width="1" height="37" fill="#f23645"/>
<rect x="708.5" y="294.9" width="4" height="11.5" fill="#f23645" stroke="#0a0f0e" stroke-width="1"/>
<rect x="716.5" y="291.2" width="1" height="33" fill="#f23645"/>
<rect x="715" y="307.4" width="4" height="8" fill="#f23645" stroke="#0a0f0e" stroke-width="1"/>
<rect x="723" y="300.8" width="1" height="21.2" fill="#089981"/>
<rect x="721.5" y="303.5" width="4" height="11.5" fill="#089981" stroke="#0a0f0e" stroke-width="1"/>
<rect x="730" y="298.3" width="1" height="12.5" fill="#f23645"/>
<rect x="728.5" y="303.5" width="4" height="2.9" fill="#f23645" stroke="#0a0f0e" stroke-width="1"/>
<rect x="736.5" y="302" width="1" height="11.8" fill="#f23645"/>
<rect x="735" y="306.4" width="4" height="4.9" fill="#f23645" stroke="#0a0f0e" stroke-width="1"/>
<rect x="743" y="295" width="1" height="27.5" fill="#f23645"/>
<rect x="741.5" y="312" width="4" height="8.1" fill="#f23645" stroke="#0a0f0e" stroke-width="1"/>
<rect x="750" y="316.7" width="1" height="29.7" fill="#f23645"/>
<rect x="748.5" y="320.8" width="4" height="19.7" fill="#f23645" stroke="#0a0f0e" stroke-width="1"/>
<rect x="756.5" y="337.2" width="1" height="20.3" fill="#f23645"/>
<rect x="754.5" y="340.8" width="5" height="1.9" fill="#0a0f0e"/>
<rect x="763" y="333" width="1" height="26.2" fill="#f23645"/>
<rect x="761.5" y="343.6" width="4" height="14.7" fill="#f23645" stroke="#0a0f0e" stroke-width="1"/>
<rect x="769.5" y="351.7" width="1" height="17.2" fill="#f23645"/>
<rect x="768" y="359.6" width="4" height="2.9" fill="#f23645" stroke="#0a0f0e" stroke-width="1"/>
<rect x="776.5" y="358.3" width="1" height="16.7" fill="#f23645"/>
<rect x="775" y="363.6" width="4" height="3.6" fill="#f23645" stroke="#0a0f0e" stroke-width="1"/>
<rect x="783" y="355.8" width="1" height="14.7" fill="#089981"/>
<rect x="781.5" y="359.5" width="4" height="7.7" fill="#089981" stroke="#0a0f0e" stroke-width="1"/>
<rect x="789.5" y="349.5" width="1" height="9.7" fill="#089981"/>
<rect x="788" y="355.6" width="4" height="2.7" fill="#089981" stroke="#0a0f0e" stroke-width="1"/>
<rect x="796" y="355.1" width="1" height="24" fill="#f23645"/>
<rect x="794.5" y="355.6" width="4" height="16.2" fill="#f23645" stroke="#0a0f0e" stroke-width="1"/>
<rect x="803" y="367.2" width="1" height="9.5" fill="#089981"/>
<rect x="801.5" y="370.6" width="4" height="1.6" fill="#089981" stroke="#0a0f0e" stroke-width="1"/>
<rect x="809.5" y="358.3" width="1" height="14.2" fill="#089981"/>
<rect x="808" y="359.8" width="4" height="9.9" fill="#089981" stroke="#0a0f0e" stroke-width="1"/>
<rect x="816" y="353.3" width="1" height="10.5" fill="#089981"/>
<rect x="814" y="358.1" width="5" height="1.5" fill="#0a0f0e"/>
<rect x="823" y="344.2" width="1" height="17.5" fill="#089981"/>
<rect x="821.5" y="351.3" width="4" height="7.1" fill="#089981" stroke="#0a0f0e" stroke-width="1"/>
<rect x="829.5" y="341.2" width="1" height="16.3" fill="#089981"/>
<rect x="828" y="348.6" width="4" height="1.6" fill="#089981" stroke="#0a0f0e" stroke-width="1"/>
<rect x="836" y="341.7" width="1" height="27.2" fill="#f23645"/>
<rect x="834.5" y="348.6" width="4" height="18.2" fill="#f23645" stroke="#0a0f0e" stroke-width="1"/>
<rect x="842.5" y="358.3" width="1" height="16.7" fill="#089981"/>
<rect x="841" y="363.3" width="4" height="3.6" fill="#089981" stroke="#0a0f0e" stroke-width="1"/>
<rect x="849.5" y="345.8" width="1" height="16.5" fill="#089981"/>
<rect x="848" y="350.3" width="4" height="11.6" fill="#089981" stroke="#0a0f0e" stroke-width="1"/>
<rect x="856" y="343.8" width="1" height="35.8" fill="#f23645"/>
<rect x="854.5" y="350.3" width="4" height="24.9" fill="#f23645" stroke="#0a0f0e" stroke-width="1"/>
<rect x="862.5" y="366.7" width="1" height="16.7" fill="#f23645"/>
<rect x="860.5" y="375.6" width="5" height="1.5" fill="#0a0f0e"/>
<rect x="869" y="370.3" width="1" height="7.2" fill="#089981"/>
<rect x="867.5" y="372.8" width="4" height="3.6" fill="#089981" stroke="#0a0f0e" stroke-width="1"/>
<rect x="876" y="367.8" width="1" height="8.3" fill="#f23645"/>
<rect x="874.5" y="372.8" width="4" height="2.4" fill="#f23645" stroke="#0a0f0e" stroke-width="1"/>
<rect x="882.5" y="375" width="1" height="12.8" fill="#f23645"/>
<rect x="881" y="376.1" width="4" height="8.6" fill="#f23645" stroke="#0a0f0e" stroke-width="1"/>
<rect x="889" y="382.5" width="1" height="13.3" fill="#f23645"/>
<rect x="887.5" y="385.8" width="4" height="8.4" fill="#f23645" stroke="#0a0f0e" stroke-width="1"/>
<rect x="895.5" y="385.8" width="1" height="13.7" fill="#089981"/>
<rect x="894" y="388.3" width="4" height="5.9" fill="#089981" stroke="#0a0f0e" stroke-width="1"/>
<rect x="902.5" y="386.2" width="1" height="11.7" fill="#f23645"/>
<rect x="901" y="388.3" width="4" height="5.9" fill="#f23645" stroke="#0a0f0e" stroke-width="1"/>
<rect x="909" y="374.2" width="1" height="29.2" fill="#089981"/>
<rect x="907.5" y="376.1" width="4" height="18.1" fill="#089981" stroke="#0a0f0e" stroke-width="1"/>
<rect x="915.5" y="375.5" width="1" height="10" fill="#f23645"/>
<rect x="914" y="376.1" width="4" height="5.6" fill="#f23645" stroke="#0a0f0e" stroke-width="1"/>
<rect x="922.5" y="379.2" width="1" height="12.2" fill="#f23645"/>
<rect x="921" y="382.3" width="4" height="4.6" fill="#f23645" stroke="#0a0f0e" stroke-width="1"/>
<rect x="929" y="383.3" width="1" height="28" fill="#f23645"/>
<rect x="927.5" y="387.8" width="4" height="19.4" fill="#f23645" stroke="#0a0f0e" stroke-width="1"/>
<rect x="935.5" y="394.2" width="1" height="13.8" fill="#089981"/>
<rect x="934" y="397.8" width="4" height="9.4" fill="#089981" stroke="#0a0f0e" stroke-width="1"/>
<rect x="942" y="391.3" width="1" height="7.2" fill="#f23645"/>
<rect x="940" y="397" width="5" height="1.6" fill="#0a0f0e"/>
<rect x="949" y="391.3" width="1" height="7.8" fill="#089981"/>
<rect x="947.5" y="393.6" width="4" height="4.1" fill="#089981" stroke="#0a0f0e" stroke-width="1"/>
<rect x="955.5" y="383" width="1" height="26.2" fill="#089981"/>
<rect x="954" y="391.6" width="4" height="1.7" fill="#089981" stroke="#0a0f0e" stroke-width="1"/>
<rect x="962" y="379.2" width="1" height="18.3" fill="#089981"/>
<rect x="960.5" y="387.5" width="4" height="3.9" fill="#089981" stroke="#0a0f0e" stroke-width="1"/>
<rect x="968.5" y="381.2" width="1" height="7.2" fill="#f23645"/>
<rect x="966.5" y="386.5" width="5" height="1.7" fill="#0a0f0e"/>
<rect x="975.5" y="386.7" width="1" height="22.2" fill="#f23645"/>
<rect x="974" y="388.6" width="4" height="16.6" fill="#f23645" stroke="#0a0f0e" stroke-width="1"/>
<rect x="982" y="400.3" width="1" height="8.8" fill="#089981"/>
<rect x="980.5" y="402.5" width="4" height="2.7" fill="#089981" stroke="#0a0f0e" stroke-width="1"/>
<rect x="988.5" y="400" width="1" height="5" fill="#f23645"/>
<rect x="986.5" y="401.5" width="5" height="1.5" fill="#0a0f0e"/>
<rect x="995" y="401.7" width="1" height="14.2" fill="#f23645"/>
<rect x="993.5" y="402.6" width="4" height="10.4" fill="#f23645" stroke="#0a0f0e" stroke-width="1"/>
<rect x="1002" y="402.2" width="1" height="11.5" fill="#089981"/>
<rect x="1000.5" y="405.8" width="4" height="7.2" fill="#089981" stroke="#0a0f0e" stroke-width="1"/>
<rect x="1008.5" y="403.8" width="1" height="5.8" fill="#f23645"/>
<rect x="1006.5" y="406.1" width="5" height="2.4" fill="#0a0f0e"/>
<rect x="1015" y="396.7" width="1" height="12.2" fill="#089981"/>
<rect x="1013.5" y="399.1" width="4" height="8.9" fill="#089981" stroke="#0a0f0e" stroke-width="1"/>
<rect x="1022" y="376.7" width="1" height="23.3" fill="#089981"/>
<rect x="1020.5" y="380.6" width="4" height="17.1" fill="#089981" stroke="#0a0f0e" stroke-width="1"/>
<rect x="1028.5" y="372.8" width="1" height="13.8" fill="#f23645"/>
<rect x="1027" y="381.1" width="4" height="2.7" fill="#f23645" stroke="#0a0f0e" stroke-width="1"/>
<rect x="1035" y="377.5" width="1" height="8" fill="#089981"/>
<rect x="1033.5" y="380.8" width="4" height="3.1" fill="#089981" stroke="#0a0f0e" stroke-width="1"/>
<rect x="1041.5" y="369.2" width="1" height="15" fill="#089981"/>
<rect x="1040" y="370.6" width="4" height="9.4" fill="#089981" stroke="#0a0f0e" stroke-width="1"/>
<rect x="1048.5" y="359.2" width="1" height="14.2" fill="#089981"/>
<rect x="1047" y="362" width="4" height="8.1" fill="#089981" stroke="#0a0f0e" stroke-width="1"/>
<rect x="1055" y="349.2" width="1" height="14.5" fill="#089981"/>
<rect x="1053" y="359.1" width="5" height="2.4" fill="#0a0f0e"/>
<rect x="1061.5" y="358" width="1" height="13.7" fill="#f23645"/>
<rect x="1060" y="359.6" width="4" height="9.6" fill="#f23645" stroke="#0a0f0e" stroke-width="1"/>
<rect x="1068" y="367.5" width="1" height="18.3" fill="#f23645"/>
<rect x="1066.5" y="370.3" width="4" height="9.1" fill="#f23645" stroke="#0a0f0e" stroke-width="1"/>
<rect x="1075" y="371.7" width="1" height="10" fill="#089981"/>
<rect x="1073.5" y="373.6" width="4" height="5.7" fill="#089981" stroke="#0a0f0e" stroke-width="1"/>
<rect x="1081.5" y="372" width="1" height="6.3" fill="#f23645"/>
<rect x="1080" y="373.6" width="4" height="2.7" fill="#f23645" stroke="#0a0f0e" stroke-width="1"/>
</g>
<line x1="2.75" y1="376.9" x2="1366" y2="376.9" stroke="#f23645" stroke-width="1.7" stroke-dasharray="1.2 1.91" stroke-opacity="0.7"/>
<polyline fill="none" stroke="#000" stroke-width="2.2" stroke-linejoin="miter" stroke-linecap="round" points="1101.7,372.2 1155.4,242.7 1195.2,294.1 1248.2,79"/>
<polyline fill="none" stroke="#000" stroke-width="2.2" stroke-linejoin="miter" stroke-linecap="round" points="1235.3,86.7 1248.2,79 1256.4,91.6"/>
<defs><linearGradient id="ob" x1="0" y1="0" x2="0" y2="1"><stop offset="0" stop-color="#4caf50" stop-opacity="0.55"/><stop offset="1" stop-color="#4caf50" stop-opacity="0"/></linearGradient></defs>
<polygon points="595.2,618.2 598,615.2 604.6,614 611.2,618.1 611.4,618.2" fill="url(#ob)"/>
<polygon points="623,618.2 624.5,616.9 626.1,618.2" fill="url(#ob)"/>
<polygon points="636.5,618.2 637.8,617.1 644.5,615.2 651.1,614.2 657.7,610.3 664.4,604.2 671,614 675.3,618.2" fill="url(#ob)"/>
<polyline fill="none" stroke="#7e57c2" stroke-width="1.2" stroke-linejoin="round" points="2.3,646.8 7.2,649.2 13.9,639.4 20.3,641.4 27,632.6 33.6,627.5 40.2,633.5 46.9,632.8 53.5,637.5 60.2,637.6 66.8,637.5 73.4,636.7 80.1,633.7 86.7,634.5 93.4,634.3 100,622.4 106.6,624.2 113.3,622 119.9,616.8 126.6,619.1 133.2,618.5 139.8,614.8 146.5,617.5 153.1,620.9 159.8,624 166.4,624.2 173,633.2 179.7,634.3 186.3,632.4 193,632.4 199.6,632.4 206.2,622.6 212.9,618.5 219.5,614.8 226.2,621.6 232.8,620.3 239.5,619.1 246.1,623.8 252.7,629.2 259.4,633.7 265.6,637.6 272.7,631.6 279.3,634.5 285.9,633.7 292.7,631.6 299.4,625.3 306,632.4 312.7,631.6 319.3,632.8 325.9,635.1 332.6,633.5 339.2,636.5 345.9,639.8 352.5,646.8 359.1,645.5 365.8,644.3 372.4,642.3 379.1,644.5 385.7,647.2 392.3,650.1 399,649 405.6,645.9 412.3,644.5 418.9,637.5 425.5,635.9 432.2,640.2 438.8,644.3 445.5,645.3 452.1,646.2 458.8,644.5 465.4,645.5 472,648.2 478.7,646.8 485.3,647 492,649.8 498.6,652.3 504.8,654.6 511.9,643.9 518.5,642.5 525.2,644.5 531.8,646.4 538.4,645.1 545.1,637.6 551.7,636.5 558.4,638.6 564.6,642.5 571.6,633.2 578.3,629.2 584.7,625.9 591.3,622.4 598,615.2 604.6,614 611.2,618.1 617.9,622.4 624.5,616.9 631.2,622.4 637.8,617.1 644.5,615.2 651.1,614.2 657.7,610.3 664.4,604.2 671,614 677.7,620.5 684.3,619.9 690.9,620.5 697.6,618.1 703,615.6 708.9,620.9 716.7,625.5 724.1,622.4 730.8,624.2 737.4,626.5 744.1,630.6 750.7,637.1 757.3,637.6 764,641.8 770.6,642.9 776.9,644.1 783.5,640.6 790.2,639.6 797.6,644.5 803.8,643.5 810.5,639.4 817.1,639.2 823.8,636.5 830.4,635.3 837,642.1 843.7,640.6 850.3,635.3 856.6,643.3 862.7,643.7 869.4,642.1 876,642.9 882.7,645.7 889.3,648 895.9,645.1 903,647.2 909.6,639.6 916.2,641.4 922.9,643.3 929.5,648.4 936.2,644.5 942.8,645.3 949.5,643.5 956.1,642.3 962.7,640.2 969.4,640.4 976,646.2 982.7,644.9 988.9,644.9 995.9,648.4 1002.6,644.5 1009.6,645.5 1015.5,640.6 1022.1,633.2 1028.8,634.9 1035.4,633.2 1042,629.8 1048.7,626.3 1055.3,625.1 1062,631.2 1069,636.3 1075.2,633.2 1081.5,635.1"/>
<polyline fill="none" stroke="#fdd835" stroke-width="1.2" stroke-linejoin="round" points="2.3,641.4 11.7,643.3 20.3,644.1 33.6,641.9 46.9,640 66.8,639 80.1,637.6 93.4,635.5 106.6,632.8 119.9,630.2 133.2,628.3 146.5,625.7 159.8,623.8 173,622.8 186.3,622.8 199.6,623.8 212.9,624 226.2,624.4 239.5,624.8 252.7,625.7 265.6,626.5 279.3,626.7 290,626.7 301.7,627.7 319.3,630.6 339.2,633.2 365.8,636.1 379.1,637.6 392.3,640.4 405.6,642.5 418.9,643.5 438.8,644.1 458.8,644.5 478.7,644.9 498.6,644.9 511.9,645.9 525.2,646.8 538.4,646.8 551.7,645.9 564.6,644.9 578.3,642.5 580,642.5 591.7,639 604.6,634.5 624.5,628.3 651.1,622 664.4,617.5 677.7,616.2 690.9,616.6 708.9,616.9 730.8,617.5 744.1,619.5 764,625.9 783.5,630.6 803.8,635.5 823.8,639 837,640.2 856.6,640.4 860,640.6 879.5,641 903,641.9 922.9,643.3 942.8,644.5 962.7,644.1 982.7,644.1 1009.6,644.5 1022.1,643.3 1035.4,641.6 1048.7,639.4 1062,637.6 1075.2,636.3 1081.5,635.7"/>
<g shape-rendering="crispEdges">
<rect x="2" y="688.9" width="1.7" height="2.4" fill="#ff5252"/>
<rect x="4.7" y="688.9" width="5.6" height="2.9" fill="#ff5252"/>
<rect x="11.4" y="688.9" width="5.6" height="1.4" fill="#ffcdd2"/>
<rect x="18" y="688.9" width="5.6" height="1" fill="#ffcdd2"/>
<rect x="24.6" y="687.9" width="5.6" height="2.2" fill="#26a69a"/>
<rect x="31.3" y="685" width="5.6" height="5.1" fill="#26a69a"/>
<rect x="37.9" y="684.8" width="5.6" height="5.3" fill="#26a69a"/>
<rect x="44.5" y="684.8" width="5.6" height="5.3" fill="#26a69a"/>
<rect x="51.2" y="686" width="5.6" height="4.1" fill="#b2dfdb"/>
<rect x="57.8" y="687" width="5.6" height="3.1" fill="#b2dfdb"/>
<rect x="64.4" y="687.5" width="5.6" height="2.6" fill="#b2dfdb"/>
<rect x="71.1" y="687.7" width="5.6" height="2.4" fill="#b2dfdb"/>
<rect x="77.7" y="687.2" width="5.6" height="2.9" fill="#26a69a"/>
<rect x="84.3" y="687.5" width="5.6" height="2.6" fill="#b2dfdb"/>
<rect x="91" y="687.9" width="5.6" height="2.2" fill="#b2dfdb"/>
<rect x="97.6" y="685.2" width="5.6" height="4.9" fill="#26a69a"/>
<rect x="104.2" y="684.2" width="5.6" height="5.9" fill="#26a69a"/>
<rect x="110.9" y="683.1" width="5.6" height="7" fill="#26a69a"/>
<rect x="117.5" y="681.1" width="5.6" height="9" fill="#26a69a"/>
<rect x="124.1" y="680.3" width="5.6" height="9.8" fill="#26a69a"/>
<rect x="130.8" y="680.9" width="5.6" height="9.2" fill="#b2dfdb"/>
<rect x="137.4" y="678.2" width="5.6" height="11.9" fill="#26a69a"/>
<rect x="144" y="678.8" width="5.6" height="11.3" fill="#b2dfdb"/>
<rect x="150.7" y="680.5" width="5.6" height="9.6" fill="#b2dfdb"/>
<rect x="157.3" y="681.9" width="5.6" height="8.2" fill="#b2dfdb"/>
<rect x="163.9" y="684.2" width="5.6" height="5.9" fill="#b2dfdb"/>
<rect x="170.6" y="687.4" width="5.6" height="2.7" fill="#b2dfdb"/>
<rect x="177.2" y="688.9" width="5.6" height="2" fill="#ff5252"/>
<rect x="183.8" y="688.9" width="5.6" height="2.9" fill="#ff5252"/>
<rect x="190.5" y="688.9" width="5.6" height="3.9" fill="#ff5252"/>
<rect x="197.1" y="688.9" width="5.6" height="4.7" fill="#ff5252"/>
<rect x="203.7" y="688.9" width="5.6" height="2.4" fill="#ffcdd2"/>
<rect x="210.4" y="688.3" width="5.6" height="1.8" fill="#26a69a"/>
<rect x="217" y="684.8" width="5.6" height="5.3" fill="#26a69a"/>
<rect x="223.6" y="684.6" width="5.6" height="5.5" fill="#26a69a"/>
<rect x="230.3" y="684" width="5.6" height="6.1" fill="#26a69a"/>
<rect x="236.9" y="684" width="5.6" height="6.1" fill="#26a69a"/>
<rect x="243.5" y="685" width="5.6" height="5.1" fill="#b2dfdb"/>
<rect x="250.2" y="688.3" width="5.6" height="1.8" fill="#b2dfdb"/>
<rect x="256.8" y="688.9" width="5.6" height="2" fill="#ff5252"/>
<rect x="263.4" y="688.9" width="5.6" height="5.3" fill="#ff5252"/>
<rect x="270.1" y="688.9" width="5.6" height="4.7" fill="#ffcdd2"/>
<rect x="276.7" y="688.9" width="5.6" height="5.9" fill="#ff5252"/>
<rect x="283.3" y="688.9" width="5.6" height="6.3" fill="#ff5252"/>
<rect x="290" y="688.9" width="5.6" height="5.3" fill="#ffcdd2"/>
<rect x="296.6" y="688.9" width="5.6" height="2.4" fill="#ffcdd2"/>
<rect x="303.2" y="688.9" width="5.6" height="2.9" fill="#ff5252"/>
<rect x="309.9" y="688.9" width="5.6" height="2.4" fill="#ffcdd2"/>
<rect x="316.5" y="688.9" width="5.6" height="3.3" fill="#ff5252"/>
<rect x="323.2" y="688.9" width="5.6" height="3.7" fill="#ff5252"/>
<rect x="329.8" y="688.9" width="5.6" height="3.7" fill="#ff5252"/>
<rect x="336.4" y="688.9" width="5.6" height="4.5" fill="#ff5252"/>
<rect x="343.1" y="688.9" width="5.6" height="5.9" fill="#ff5252"/>
<rect x="349.7" y="688.9" width="5.6" height="8.4" fill="#ff5252"/>
<rect x="356.3" y="688.9" width="5.6" height="9.8" fill="#ff5252"/>
<rect x="363" y="688.9" width="5.6" height="9.8" fill="#ff5252"/>
<rect x="369.6" y="688.9" width="5.6" height="9" fill="#ffcdd2"/>
<rect x="376.2" y="688.9" width="5.6" height="8.2" fill="#ffcdd2"/>
<rect x="382.9" y="688.9" width="5.6" height="8.4" fill="#ff5252"/>
<rect x="389.5" y="688.9" width="5.6" height="9.8" fill="#ff5252"/>
<rect x="396.1" y="688.9" width="5.6" height="9" fill="#ffcdd2"/>
<rect x="402.8" y="688.9" width="5.6" height="7.6" fill="#ffcdd2"/>
<rect x="409.4" y="688.9" width="5.6" height="6.5" fill="#ffcdd2"/>
<rect x="416" y="688.9" width="5.6" height="3.7" fill="#ffcdd2"/>
<rect x="422.7" y="688.9" width="5.6" height="1.4" fill="#ffcdd2"/>
<rect x="429.3" y="688.9" width="5.6" height="1" fill="#ffcdd2"/>
<rect x="435.9" y="688.9" width="5.6" height="1.4" fill="#ff5252"/>
<rect x="442.6" y="688.9" width="5.6" height="1.8" fill="#ff5252"/>
<rect x="449.2" y="688.9" width="5.6" height="2.4" fill="#ff5252"/>
<rect x="455.8" y="688.9" width="5.6" height="2" fill="#ffcdd2"/>
<rect x="462.5" y="688.9" width="5.6" height="1.8" fill="#ffcdd2"/>
<rect x="469.1" y="688.9" width="5.6" height="2.4" fill="#ff5252"/>
<rect x="475.7" y="688.9" width="5.6" height="2" fill="#ffcdd2"/>
<rect x="482.4" y="688.9" width="5.6" height="1.6" fill="#ffcdd2"/>
<rect x="489" y="688.9" width="5.6" height="2.4" fill="#ff5252"/>
<rect x="495.6" y="688.9" width="5.6" height="2.7" fill="#ff5252"/>
<rect x="502.3" y="688.9" width="5.6" height="3.5" fill="#ff5252"/>
<rect x="508.9" y="688.9" width="5.6" height="1.8" fill="#ffcdd2"/>
<rect x="515.5" y="688.9" width="5.6" height="1" fill="#ffcdd2"/>
<rect x="522.2" y="688.9" width="5.6" height="1.2" fill="#26a69a"/>
<rect x="528.8" y="689.1" width="5.6" height="1" fill="#b2dfdb"/>
<rect x="535.4" y="688.3" width="5.6" height="1.8" fill="#26a69a"/>
<rect x="542.1" y="687.4" width="5.6" height="2.7" fill="#26a69a"/>
<rect x="548.7" y="685.8" width="5.6" height="4.3" fill="#26a69a"/>
<rect x="555.3" y="685.8" width="5.6" height="4.3" fill="#26a69a"/>
<rect x="562" y="686.2" width="5.6" height="3.9" fill="#b2dfdb"/>
<rect x="568.6" y="685" width="5.6" height="5.1" fill="#26a69a"/>
<rect x="575.2" y="683.8" width="5.6" height="6.3" fill="#26a69a"/>
<rect x="581.9" y="682.1" width="5.6" height="8" fill="#26a69a"/>
<rect x="588.5" y="680.5" width="5.6" height="9.6" fill="#26a69a"/>
<rect x="595.1" y="677" width="5.6" height="13.1" fill="#26a69a"/>
<rect x="601.8" y="675" width="5.6" height="15.1" fill="#26a69a"/>
<rect x="608.4" y="675" width="5.6" height="15.1" fill="#b2dfdb"/>
<rect x="615" y="676.6" width="5.6" height="13.5" fill="#b2dfdb"/>
<rect x="621.7" y="676" width="5.6" height="14.1" fill="#26a69a"/>
<rect x="628.3" y="677.6" width="5.6" height="12.5" fill="#b2dfdb"/>
<rect x="634.9" y="677" width="5.6" height="13.1" fill="#26a69a"/>
<rect x="641.6" y="676.4" width="5.6" height="13.7" fill="#26a69a"/>
<rect x="648.2" y="676.4" width="5.6" height="13.7" fill="#26a69a"/>
<rect x="654.9" y="675" width="5.6" height="15.1" fill="#26a69a"/>
<rect x="661.5" y="667.8" width="5.6" height="22.3" fill="#26a69a"/>
<rect x="668.1" y="667.6" width="5.6" height="22.5" fill="#26a69a"/>
<rect x="674.8" y="670.9" width="5.6" height="19.2" fill="#b2dfdb"/>
<rect x="681.4" y="674.1" width="5.6" height="16" fill="#b2dfdb"/>
<rect x="688" y="677.6" width="5.6" height="12.5" fill="#b2dfdb"/>
<rect x="694.7" y="679" width="5.6" height="11.1" fill="#b2dfdb"/>
<rect x="701.3" y="679" width="5.6" height="11.1" fill="#b2dfdb"/>
<rect x="707.9" y="682.1" width="5.6" height="8" fill="#b2dfdb"/>
<rect x="714.6" y="686.2" width="5.6" height="3.9" fill="#b2dfdb"/>
<rect x="721.2" y="687.4" width="5.6" height="2.7" fill="#b2dfdb"/>
<rect x="727.8" y="688.9" width="5.6" height="1" fill="#ff5252"/>
<rect x="734.5" y="688.9" width="5.6" height="3.3" fill="#ff5252"/>
<rect x="741.1" y="688.9" width="5.6" height="6.5" fill="#ff5252"/>
<rect x="747.7" y="688.9" width="5.6" height="11.5" fill="#ff5252"/>
<rect x="754.4" y="688.9" width="5.6" height="15.1" fill="#ff5252"/>
<rect x="761" y="688.9" width="5.6" height="18.8" fill="#ff5252"/>
<rect x="767.6" y="688.9" width="5.6" height="20.9" fill="#ff5252"/>
<rect x="774.3" y="688.9" width="5.6" height="22.5" fill="#ff5252"/>
<rect x="780.9" y="688.9" width="5.6" height="20.9" fill="#ffcdd2"/>
<rect x="787.5" y="688.9" width="5.6" height="19.2" fill="#ffcdd2"/>
<rect x="794.2" y="688.9" width="5.6" height="19.4" fill="#ff5252"/>
<rect x="800.8" y="688.9" width="5.6" height="18.2" fill="#ffcdd2"/>
<rect x="807.4" y="688.9" width="5.6" height="15.1" fill="#ffcdd2"/>
<rect x="814.1" y="688.9" width="5.6" height="12.9" fill="#ffcdd2"/>
<rect x="820.7" y="688.9" width="5.6" height="10" fill="#ffcdd2"/>
<rect x="827.3" y="688.9" width="5.6" height="6.9" fill="#ffcdd2"/>
<rect x="834" y="688.9" width="5.6" height="7.6" fill="#ff5252"/>
<rect x="840.6" y="688.9" width="5.6" height="6.3" fill="#ffcdd2"/>
<rect x="847.2" y="688.9" width="5.6" height="4.3" fill="#ffcdd2"/>
<rect x="853.9" y="688.9" width="5.6" height="5.7" fill="#ff5252"/>
<rect x="860.5" y="688.9" width="5.6" height="6.7" fill="#ff5252"/>
<rect x="867.1" y="688.9" width="5.6" height="5.9" fill="#ffcdd2"/>
<rect x="873.8" y="688.9" width="5.6" height="5.9" fill="#ffcdd2"/>
<rect x="880.4" y="688.9" width="5.6" height="6.9" fill="#ff5252"/>
<rect x="887" y="688.9" width="5.6" height="7.2" fill="#ff5252"/>
<rect x="893.7" y="688.9" width="5.6" height="6.7" fill="#ffcdd2"/>
<rect x="900.3" y="688.9" width="5.6" height="6.7" fill="#ffcdd2"/>
<rect x="906.9" y="688.9" width="5.6" height="4.3" fill="#ffcdd2"/>
<rect x="913.6" y="688.9" width="5.6" height="2.7" fill="#ffcdd2"/>
<rect x="920.2" y="688.9" width="5.6" height="2" fill="#ffcdd2"/>
<rect x="926.8" y="688.9" width="5.6" height="3.9" fill="#ff5252"/>
<rect x="933.5" y="688.9" width="5.6" height="3.1" fill="#ffcdd2"/>
<rect x="940.1" y="688.9" width="5.6" height="2.6" fill="#ffcdd2"/>
<rect x="946.7" y="688.9" width="5.6" height="2" fill="#ffcdd2"/>
<rect x="960" y="688.1" width="5.6" height="2" fill="#26a69a"/>
<rect x="966.6" y="687.2" width="5.6" height="2.9" fill="#26a69a"/>
<rect x="973.3" y="688.1" width="5.6" height="2" fill="#b2dfdb"/>
<rect x="979.9" y="688.9" width="5.6" height="1.2" fill="#b2dfdb"/>
<rect x="993.2" y="688.9" width="5.6" height="1.6" fill="#ff5252"/>
<rect x="1013.1" y="688.1" width="5.6" height="2" fill="#26a69a"/>
<rect x="1019.7" y="685.2" width="5.6" height="4.9" fill="#26a69a"/>
<rect x="1026.4" y="684.2" width="5.6" height="5.9" fill="#26a69a"/>
<rect x="1033" y="683.2" width="5.6" height="6.9" fill="#26a69a"/>
<rect x="1039.6" y="681.9" width="5.6" height="8.2" fill="#26a69a"/>
<rect x="1046.3" y="680.1" width="5.6" height="10" fill="#26a69a"/>
<rect x="1052.9" y="679" width="5.6" height="11.1" fill="#26a69a"/>
<rect x="1059.5" y="680.1" width="5.6" height="10" fill="#b2dfdb"/>
<rect x="1066.2" y="683.1" width="5.6" height="7" fill="#b2dfdb"/>
<rect x="1072.8" y="683.2" width="5.6" height="6.9" fill="#b2dfdb"/>
<rect x="1079.4" y="685" width="5.6" height="5.1" fill="#b2dfdb"/>
</g>
</g>
<g stroke="#e0e3eb" stroke-width="1" shape-rendering="crispEdges">
<line x1="0" y1="597.5" x2="1536" y2="597.5"/><line x1="0" y1="661.5" x2="1536" y2="661.5"/>
</g>
<g stroke="#f0f0f1" stroke-width="1">
<line x1="1.6" y1="1.5" x2="1536" y2="1.5"/><line x1="2.1" y1="1" x2="2.1" y2="745"/><line x1="1.6" y1="744.5" x2="1536" y2="744.5"/>
</g>
<defs><filter id="sh" x="-10%" y="-30%" width="120%" height="170%"><feDropShadow dx="0" dy="1" stdDeviation="1.6" flood-color="#000" flood-opacity="0.22"/></filter></defs>
<rect x="1202" y="40" width="198" height="25.5" rx="4" fill="#fff" filter="url(#sh)"/>
<text x="1212" y="57" font-size="12" fill="#222326" textLength="178" lengthAdjust="spacing" stroke="#222326" stroke-width="0.2">0.00009870 (421.10%) 9,870</text>
<text x="1445.8" y="43" font-size="12.5" fill="#131722" textLength="72.6" lengthAdjust="spacing" stroke="#131722" stroke-width="0.2">0.00015000</text>
<text x="1445.8" y="84" font-size="12.5" fill="#131722" textLength="72.6" lengthAdjust="spacing" stroke="#131722" stroke-width="0.2">0.00012000</text>
<text x="1445.8" y="117" font-size="12.5" fill="#131722" textLength="72.6" lengthAdjust="spacing" stroke="#131722" stroke-width="0.2">0.00010000</text>
<text x="1445.8" y="158" font-size="12.5" fill="#131722" textLength="72.6" lengthAdjust="spacing" stroke="#131722" stroke-width="0.2">0.00008000</text>
<text x="1445.8" y="196" font-size="12.5" fill="#131722" textLength="72.6" lengthAdjust="spacing" stroke="#131722" stroke-width="0.2">0.00006500</text>
<text x="1445.8" y="244" font-size="12.5" fill="#131722" textLength="72.6" lengthAdjust="spacing" stroke="#131722" stroke-width="0.2">0.00005000</text>
<text x="1445.8" y="285" font-size="12.5" fill="#131722" textLength="72.6" lengthAdjust="spacing" stroke="#131722" stroke-width="0.2">0.00004000</text>
<text x="1445.8" y="326" font-size="12.5" fill="#131722" textLength="72.6" lengthAdjust="spacing" stroke="#131722" stroke-width="0.2">0.00003200</text>
<text x="1445.8" y="364" font-size="12.5" fill="#131722" textLength="72.6" lengthAdjust="spacing" stroke="#131722" stroke-width="0.2">0.00002600</text>
<text x="1445.8" y="442" font-size="12.5" fill="#131722" textLength="72.6" lengthAdjust="spacing" stroke="#131722" stroke-width="0.2">0.00001700</text>
<text x="1445.8" y="477" font-size="12.5" fill="#131722" textLength="72.6" lengthAdjust="spacing" stroke="#131722" stroke-width="0.2">0.00001400</text>
<text x="1445.8" y="513" font-size="12.5" fill="#131722" textLength="72.6" lengthAdjust="spacing" stroke="#131722" stroke-width="0.2">0.00001150</text>
<text x="1445.8" y="548" font-size="12.5" fill="#131722" textLength="72.6" lengthAdjust="spacing" stroke="#131722" stroke-width="0.2">0.00000950</text>
<text x="1445.8" y="582" font-size="12.5" fill="#131722" textLength="72.6" lengthAdjust="spacing" stroke="#131722" stroke-width="0.2">0.00000790</text>
<text x="1445.8" y="614" font-size="12.5" fill="#131722" textLength="34.3" lengthAdjust="spacing" stroke="#131722" stroke-width="0.2">80.00</text>
<rect x="1437" y="2" width="99" height="34" fill="#fff"/>
<rect x="1440.7" y="5.8" width="92" height="26.6" rx="4" fill="#fff" stroke="#ececee" stroke-width="1"/>
<text x="1449.8" y="23" font-size="12.5" fill="#131722" textLength="25.3" lengthAdjust="spacing" stroke="#131722" stroke-width="0.2">USD</text>
<path d="M1368.2,368.1 H1435.8 V385.6 H1368.2 Q1365.9,385.6 1365.9,383.3 V370.4 Q1365.9,368.1 1368.2,368.1 Z" fill="#f23645"/>
<text x="1371.5" y="381" font-size="12" fill="#fff" textLength="59.8" lengthAdjust="spacing">BONKUSD</text>
<path d="M1437.2,368.1 H1522 Q1524.5,368.1 1524.5,370.6 V397.4 Q1524.5,399.9 1522,399.9 H1437.2 Z" fill="#f23645"/>
<text x="1445.8" y="381" font-size="12" fill="#fff" textLength="72.6" lengthAdjust="spacing">0.00002362</text>
<text x="1446.5" y="395" font-size="12" fill="#fff" textLength="52.5" lengthAdjust="spacing" fill-opacity="0.75" stroke-opacity="0.75">12:33:19</text>
<path d="M1437.2,400.4 H1521.5 Q1524.5,400.4 1524.5,403.4 V414.5 Q1524.5,417.5 1521.5,417.5 H1437.2 Z" fill="#ff9800"/>
<text x="1445.8" y="413" font-size="12" fill="#000" textLength="72.6" lengthAdjust="spacing" stroke="#000" stroke-width="0.2">0.00002193</text>
<path d="M1436.9,566.4 H1500.3 Q1502.8,566.4 1502.8,568.9 V583.8 H1436.9 Z" fill="#2962ff"/>
<text x="1445.8" y="579" font-size="12" fill="#fff" textLength="51.7" lengthAdjust="spacing">772.57 B</text>
<rect x="1436.9" y="583.8" width="65.9" height="13.2" fill="#ef5350"/>
<clipPath id="cv"><rect x="1436" y="583.8" width="70" height="13.2"/></clipPath>
<g clip-path="url(#cv)">
<text x="1445.8" y="597" font-size="12" fill="#fff" textLength="51.7" lengthAdjust="spacing">261.42 B</text>
</g>
<path d="M1436.9,626.6 H1483 Q1485.5,626.6 1485.5,629.1 V643.9 H1436.9 Z" fill="#7e57c2"/>
<text x="1445.8" y="640" font-size="12" fill="#fff" textLength="34.3" lengthAdjust="spacing">51.63</text>
<path d="M1436.9,643.9 H1485.5 V658.3 Q1485.5,660.8 1483,660.8 H1436.9 Z" fill="#fdd835"/>
<text x="1445.8" y="657" font-size="12" fill="#000" textLength="34.3" lengthAdjust="spacing" stroke="#000" stroke-width="0.2">51.20</text>
<path d="M1436.9,676.1 H1522.1 Q1524.6,676.1 1524.6,678.6 V691 Q1524.6,693.5 1522.1,693.5 H1436.9 Z" fill="#b2dfdb"/>
<text x="1445.8" y="689" font-size="12" fill="#000" textLength="72.6" lengthAdjust="spacing" stroke="#000" stroke-width="0.2">0.00000034</text>
<text x="10.6" y="22" font-size="12.5" fill="#131722" textLength="184" lengthAdjust="spacing" stroke="#131722" stroke-width="0.2">Bonk / US Dollar · 1D · Coinbase</text>
<text x="202" y="22" font-size="12.5" fill="#131722" textLength="81.2" lengthAdjust="spacing" stroke="#131722" stroke-width="0.2">O0.00002420</text>
<text x="290.8" y="22" font-size="12.5" fill="#131722" textLength="80.4" lengthAdjust="spacing" stroke="#131722" stroke-width="0.2">H0.00002432</text>
<text x="380" y="22" font-size="12.5" fill="#131722" textLength="78" lengthAdjust="spacing" stroke="#131722" stroke-width="0.2">L0.00002334</text>
<text x="465.8" y="22" font-size="12.5" fill="#131722" textLength="80.2" lengthAdjust="spacing" stroke="#131722" stroke-width="0.2">C0.00002362</text>
<text x="554.3" y="22" font-size="12.5" fill="#131722" textLength="137.4" lengthAdjust="spacing" stroke="#131722" stroke-width="0.2">−0.00000058 (−2.40%)</text>
<text x="10.6" y="40" font-size="12.5" fill="#131722" textLength="88.6" lengthAdjust="spacing" stroke="#131722" stroke-width="0.2">Vol · BONK (14)</text>
<text x="108" y="40" font-size="12.5" fill="#f23645" textLength="48.3" lengthAdjust="spacing" stroke="#f23645" stroke-width="0.2">261.42 B</text>
<text x="164.2" y="40" font-size="12.5" fill="#2962ff" textLength="48.8" lengthAdjust="spacing" stroke="#2962ff" stroke-width="0.2">772.57 B</text>
<text x="10.6" y="57" font-size="12.5" fill="#131722" textLength="98.6" lengthAdjust="spacing" stroke="#131722" stroke-width="0.2">EMA (200, close)</text>
<text x="117.8" y="57" font-size="12.5" fill="#ff9800" textLength="69.2" lengthAdjust="spacing" stroke="#ff9800" stroke-width="0.2">0.00002193</text>
<text x="10.6" y="618" font-size="12.5" fill="#131722" textLength="82" lengthAdjust="spacing" stroke="#131722" stroke-width="0.2">RSI (14, close)</text>
<text x="101.2" y="618" font-size="12.5" fill="#7e57c2" textLength="30.8" lengthAdjust="spacing" stroke="#7e57c2" stroke-width="0.2">51.63</text>
<text x="140" y="618" font-size="12.5" fill="#fdd835" textLength="31.2" lengthAdjust="spacing" stroke="#fdd835" stroke-width="0.2">51.20</text>
<text x="10.6" y="683" font-size="12.5" fill="#131722" textLength="121.2" lengthAdjust="spacing" stroke="#131722" stroke-width="0.2">MACD (12, 26, close)</text>
<text x="140" y="683" font-size="12.5" fill="#b2dfdb" textLength="72" lengthAdjust="spacing" stroke="#b2dfdb" stroke-width="0.2">0.00000034</text>
<text x="160.2" y="736" font-size="12.5" fill="#131722" font-weight="bold" text-anchor="middle">May</text>
<text x="365.8" y="736" font-size="12.5" fill="#131722" font-weight="bold" text-anchor="middle">Jun</text>
<text x="564.8" y="736" font-size="12.5" fill="#131722" font-weight="bold" text-anchor="middle">Jul</text>
<text x="770.5" y="736" font-size="12.5" fill="#131722" font-weight="bold" text-anchor="middle">Aug</text>
<text x="976.2" y="736" font-size="12.5" fill="#131722" font-weight="bold" text-anchor="middle">Sep</text>
<text x="1175.2" y="736" font-size="12.5" fill="#131722" font-weight="bold" text-anchor="middle">Oct</text>
<text x="1380.9" y="736" font-size="12.5" fill="#131722" font-weight="bold" text-anchor="middle">Nov</text>
</svg>
</body></html>
